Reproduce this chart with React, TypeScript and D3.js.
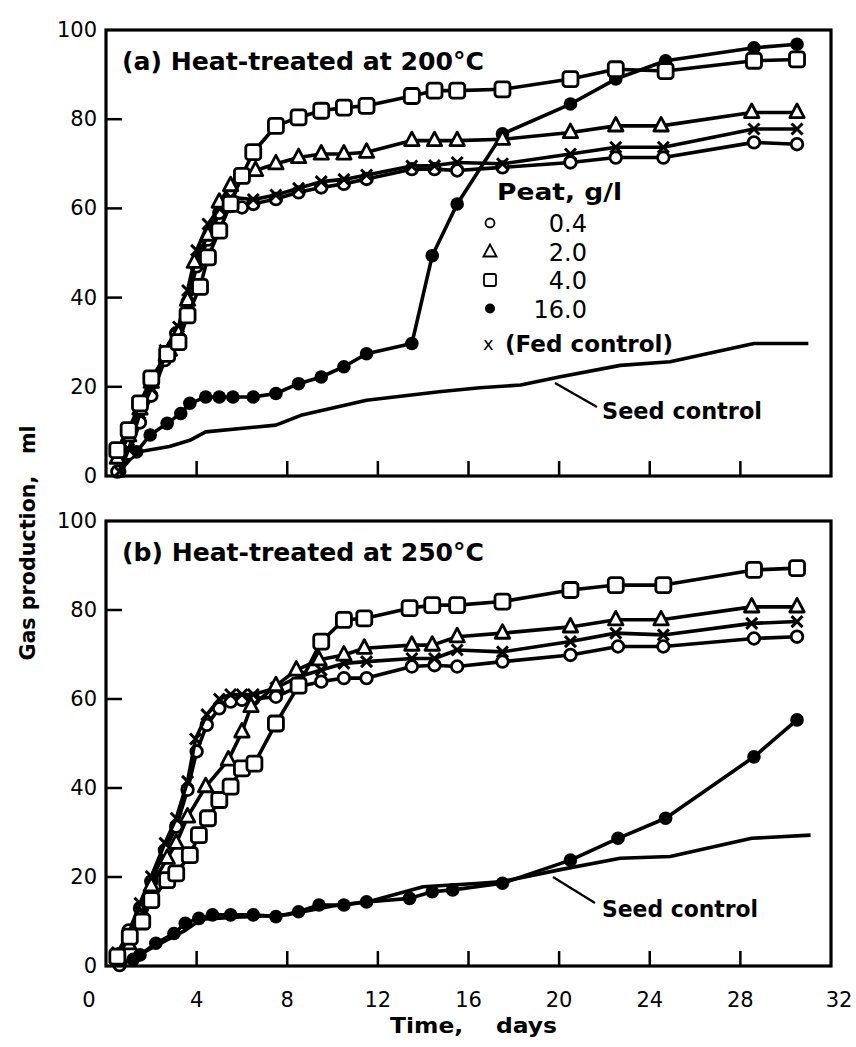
import React from "react";
import * as d3 from "d3";

type Pt = [number, number];

// ---------- Panel (a) heat-treated at 200 °C ----------
const topCircle: Pt[] = [[0.5,1],[1.0,5],[1.5,12],[2.0,18],[2.6,26],[3.1,32],[3.6,39],[4.0,47],[4.5,53],[5.0,59],[5.5,60.5],[6.0,60.2],[6.5,61],[7.5,62.1],[8.5,63.6],[9.5,64.7],[10.5,65.5],[11.5,66.6],[13.5,68.8],[14.5,68.8],[15.5,68.5],[17.5,69.2],[20.5,70.3],[22.5,71.4],[24.6,71.4],[28.6,74.8],[30.5,74.4]];
const topTriangle: Pt[] = [[0.5,4],[1.0,9],[1.5,15],[2.0,21],[2.8,28.2],[3.2,32],[3.6,39.4],[3.9,47.9],[4.5,54],[5.0,61.4],[5.5,65.1],[6.6,68.5],[7.5,70],[8.5,71.4],[9.5,72.2],[10.5,72.2],[11.5,72.6],[13.5,75.2],[14.5,75.2],[15.5,75.2],[17.5,75.5],[20.5,77],[22.5,78.5],[24.5,78.5],[28.5,81.5],[30.5,81.5]];
const topSquare: Pt[] = [[0.5,5.8],[1.0,10.3],[1.5,16.3],[2.0,21.9],[2.7,27.4],[3.2,30],[3.6,36],[4.15,42.4],[4.5,49],[5.0,55],[5.5,61],[6.0,67.3],[6.5,72.6],[7.5,78.5],[8.5,80.4],[9.5,81.9],[10.5,82.6],[11.5,83],[13.5,85.2],[14.5,86.4],[15.5,86.4],[17.5,86.7],[20.5,89],[22.5,91.2],[24.7,90.8],[28.6,93.1],[30.5,93.4]];
const topDot: Pt[] = [[0.6,1],[1.35,5.4],[1.95,9.2],[2.7,11.8],[3.3,14],[3.7,16.3],[4.4,17.7],[5.0,17.7],[5.6,17.7],[6.5,17.7],[7.5,18.5],[8.5,20.7],[9.5,22.2],[10.5,24.5],[11.5,27.4],[13.5,29.7],[14.4,49.4],[15.5,61],[17.5,76.7],[20.5,83.4],[22.5,89],[24.7,93.1],[28.6,96],[30.5,96.8]];
const topCross: Pt[] = [[0.6,1],[1.0,6],[1.5,14],[2.0,19.6],[2.6,28.2],[3.2,33.4],[3.6,41.6],[4.0,50.6],[4.5,56.5],[5.0,60],[5.5,62.5],[6.5,62],[7.5,63],[8.5,64.5],[9.5,66],[10.5,66.5],[11.5,67.5],[13.5,69.5],[14.5,69.6],[15.5,70.3],[17.5,70],[20.5,72.2],[22.5,73.7],[24.6,73.7],[28.6,77.8],[30.5,77.8]];
const topSeed: Pt[] = [[0.5,0.5],[1.2,5.2],[2.8,6.6],[3.7,8],[4.4,9.9],[7.5,11.4],[8.6,13.6],[11.5,17],[14.7,18.9],[16.5,19.8],[18.3,20.4],[20,22.2],[22.7,24.8],[24.9,25.6],[28.6,29.7],[31,29.7]];

// ---------- Panel (b) heat-treated at 250 °C ----------
const botCircle: Pt[] = [[0.6,0.2],[1.0,8],[1.5,13],[2.0,19],[2.6,26],[3.1,31.3],[3.6,39.6],[4.0,48.2],[4.45,54.2],[5.0,57.9],[5.5,59.4],[6.0,59.8],[6.5,60],[7.5,60.5],[8.5,62.8],[9.5,63.9],[10.5,64.7],[11.5,64.7],[13.5,67.3],[14.5,67.6],[15.5,67.3],[17.5,68.4],[20.5,69.9],[22.6,71.8],[24.6,71.8],[28.6,73.6],[30.5,74]];
const botCross: Pt[] = [[0.5,3],[1.0,7.3],[1.5,14.1],[2.0,20.1],[2.6,27.6],[3.1,33.2],[3.6,41.5],[3.95,51],[4.45,56.5],[5.0,60],[5.5,61],[6.0,61],[6.5,61],[7.5,62.5],[8.5,65],[9.5,66.5],[10.5,68],[11.5,68.4],[13.5,69.1],[14.5,69.1],[15.5,71],[17.5,70.6],[20.5,72.9],[22.5,74.8],[24.6,74.4],[28.5,77],[30.5,77.4]];
const botTriangle: Pt[] = [[0.5,2],[1.0,5],[1.5,11],[2.0,18],[2.7,24.2],[3.1,27.6],[3.6,33.5],[4.4,40.3],[5.4,46.3],[6.0,52.6],[6.4,58.3],[7.5,63],[8.4,66.5],[9.4,68.8],[10.5,69.9],[11.4,71.4],[13.5,72.1],[14.4,72.1],[15.5,74],[17.5,74.8],[20.5,76.2],[22.5,77.8],[24.5,77.8],[28.5,80.7],[30.5,80.7]];
const botSquare: Pt[] = [[0.5,2.1],[1.05,6.6],[1.6,10],[2.0,14.8],[2.7,19.3],[3.1,20.8],[3.7,24.9],[4.1,29.4],[4.5,33.2],[5.0,37.3],[5.5,40.3],[6.0,44.4],[6.55,45.5],[7.5,54.5],[8.5,63],[9.5,72.9],[10.5,77.8],[11.4,78.1],[13.4,80.4],[14.4,81.1],[15.5,81.1],[17.5,81.9],[20.5,84.5],[22.5,85.6],[24.6,85.6],[28.6,89],[30.5,89.4]];
const botDot: Pt[] = [[0.6,0.5],[1.2,1.5],[1.5,2.5],[2.2,5.1],[3.0,7.3],[3.5,9.6],[4.1,10.7],[4.7,11.5],[5.5,11.5],[6.5,11.5],[7.5,11.1],[8.5,12.2],[9.4,13.7],[10.5,13.7],[11.5,14.4],[13.4,15.2],[14.4,16.7],[15.3,17.1],[17.5,18.6],[20.5,23.8],[22.6,28.7],[24.7,33.2],[28.6,47],[30.5,55.3]];
const botSeed: Pt[] = [[0.6,0],[2.0,4],[3.5,8],[4.2,10.5],[6,11],[8,11.5],[10,13.5],[11.7,14.6],[14,17.8],[16.5,18.6],[17.5,19],[20,21.6],[22.7,24.2],[24.9,24.6],[28.5,28.7],[31.1,29.4]];

const xTicks = [0, 4, 8, 12, 16, 20, 24, 28, 32];
const yTicks = [0, 20, 40, 60, 80, 100];
const legendLabels = ["0.4", "2.0", "4.0", "16.0"];
const legendShapes = ["circle", "triangle", "square", "dot"];

const FONT = "'DejaVu Sans', sans-serif";

const x = d3.scaleLinear().domain([0, 32]).range([106, 831]);
const yTop = d3.scaleLinear().domain([0, 100]).range([476, 30]);
const yBot = d3.scaleLinear().domain([0, 100]).range([966, 521]);

function Marker({ shape, cx, cy }: { shape: string; cx: number; cy: number }) {
  const sw = 2.8;
  if (shape === "circle")
    return <circle cx={cx} cy={cy} r={5.8} fill="#fff" stroke="#000" strokeWidth={sw} />;
  if (shape === "dot") return <circle cx={cx} cy={cy} r={6.8} fill="#000" />;
  if (shape === "square")
    return <rect x={cx - 7.5} y={cy - 7.5} width={15} height={15} rx={3} fill="#fff" stroke="#000" strokeWidth={sw} />;
  if (shape === "triangle") {
    const s = 8.5;
    return (
      <path
        d={`M${cx},${cy - s} L${cx + s * 0.85},${cy + s * 0.6} L${cx - s * 0.85},${cy + s * 0.6} Z`}
        fill="#fff"
        stroke="#000"
        strokeWidth={sw}
        strokeLinejoin="round"
      />
    );
  }
  const a = 5.5;
  return (
    <path d={`M${cx - a},${cy - a} L${cx + a},${cy + a} M${cx + a},${cy - a} L${cx - a},${cy + a}`} stroke="#000" strokeWidth={3} />
  );
}

function Series({ data, y, shape }: { data: Pt[]; y: d3.ScaleLinear<number, number>; shape?: string }) {
  const line = d3.line<Pt>().x((d) => x(d[0])).y((d) => y(d[1]));
  return (
    <g>
      <path d={line(data) || ""} fill="none" stroke="#000" strokeWidth={3.6} strokeLinejoin="round" />
      {shape && data.map((d, i) => <Marker key={i} shape={shape} cx={x(d[0])} cy={y(d[1])} />)}
    </g>
  );
}

function Panel({
  y,
  title,
  showXLabels,
  series,
  seed,
}: {
  y: d3.ScaleLinear<number, number>;
  title: string;
  showXLabels: boolean;
  series: { data: Pt[]; shape: string }[];
  seed: Pt[];
}) {
  const [r0, r1] = y.range();
  return (
    <g>
      {yTicks.map((t) => (
        <g key={t}>
          {t > 0 && t < 100 && <line x1={x(0)} x2={x(0) + 16} y1={y(t)} y2={y(t)} stroke="#000" strokeWidth={2.5} />}
          <text x={97} y={y(t) + 7} textAnchor="end" fontFamily={FONT} fontSize={21}>
            {t}
          </text>
        </g>
      ))}
      {xTicks.map((t) =>
        t > 0 && t < 32 ? (
          <line key={t} x1={x(t)} x2={x(t)} y1={r0} y2={r0 - 15} stroke="#000" strokeWidth={2.5} />
        ) : null
      )}
      {showXLabels &&
        xTicks.map((t) => (
          <text key={t} x={x(t) + (t === 0 ? -17 : t === 32 ? 8 : 0)} y={r0 + 41} textAnchor="middle" fontFamily={FONT} fontSize={21}>
            {t}
          </text>
        ))}
      <Series data={seed} y={y} />
      {series.map((s, i) => (
        <Series key={i} data={s.data} y={y} shape={s.shape} />
      ))}
      <rect x={x(0)} y={r1} width={x(32) - x(0)} height={r0 - r1} fill="none" stroke="#000" strokeWidth={3.2} />
      <text x={122} y={r1 + 40} fontFamily={FONT} fontSize={24} fontWeight="bold" textLength={362} lengthAdjust="spacingAndGlyphs">
        {title}
      </text>
    </g>
  );
}

export default function App() {
  return (
    <svg width={856} height={1047} style={{ display: "block", position: "absolute", left: 0, top: 0 }}>
      <rect width={856} height={1047} fill="#fff" />
      <Panel
        y={yTop}
        title="(a) Heat-treated at 200°C"
        showXLabels={false}
        seed={topSeed}
        series={[
          { data: topDot, shape: "dot" },
          { data: topCircle, shape: "circle" },
          { data: topCross, shape: "cross" },
          { data: topTriangle, shape: "triangle" },
          { data: topSquare, shape: "square" },
        ]}
      />
      <Panel
        y={yBot}
        title="(b) Heat-treated at 250°C"
        showXLabels={true}
        seed={botSeed}
        series={[
          { data: botDot, shape: "dot" },
          { data: botCircle, shape: "circle" },
          { data: botCross, shape: "cross" },
          { data: botTriangle, shape: "triangle" },
          { data: botSquare, shape: "square" },
        ]}
      />
      {/* legend */}
      <text x={497} y={200} fontFamily={FONT} fontSize={23} fontWeight="bold" textLength={125} lengthAdjust="spacingAndGlyphs">
        Peat, g/l
      </text>
      {legendLabels.map((lab, i) => {
        const cy = 223 + i * 28.5;
        return (
          <g key={lab}>
            {legendShapes[i] === "dot" ? (
              <circle cx={490} cy={cy} r={5} fill="#000" />
            ) : legendShapes[i] === "circle" ? (
              <circle cx={490} cy={cy} r={4.5} fill="#fff" stroke="#000" strokeWidth={1.8} />
            ) : legendShapes[i] === "square" ? (
              <rect x={484} y={cy - 6} width={12} height={12} rx={2} fill="#fff" stroke="#000" strokeWidth={1.8} />
            ) : (
              <path d={`M490,${cy - 7} L496.5,${cy + 5} L483.5,${cy + 5} Z`} fill="#fff" stroke="#000" strokeWidth={1.8} />
            )}
            <text x={587} y={cy + 9} textAnchor="end" fontFamily={FONT} fontSize={24}>
              {lab}
            </text>
          </g>
        );
      })}
      <text x={483} y={350} fontFamily={FONT} fontSize={18}>
        x
      </text>
      <text x={505} y={352} fontFamily={FONT} fontSize={23} fontWeight="bold" textLength={168} lengthAdjust="spacingAndGlyphs">
        (Fed control)
      </text>
      {/* seed control labels */}
      <line x1={555} y1={383} x2={597} y2={407} stroke="#000" strokeWidth={2.2} />
      <text x={602} y={419} fontFamily={FONT} fontSize={23} fontWeight="bold" textLength={160} lengthAdjust="spacingAndGlyphs">
        Seed control
      </text>
      <line x1={553} y1={877} x2={595} y2={903} stroke="#000" strokeWidth={2.2} />
      <text x={602} y={917} fontFamily={FONT} fontSize={23} fontWeight="bold" textLength={156} lengthAdjust="spacingAndGlyphs">
        Seed control
      </text>
      {/* axis titles */}
      <text
        transform="translate(35,543) rotate(-90)"
        textAnchor="middle"
        fontFamily={FONT}
        fontSize={21}
        fontWeight="bold"
        xmlSpace="preserve"
        textLength={235}
        lengthAdjust="spacingAndGlyphs"
      >
        Gas production,   ml
      </text>
      <text x={390} y={1033} fontFamily={FONT} fontSize={22} fontWeight="bold" xmlSpace="preserve" textLength={167} lengthAdjust="spacingAndGlyphs">
        Time,    days
      </text>
    </svg>
  );
}
